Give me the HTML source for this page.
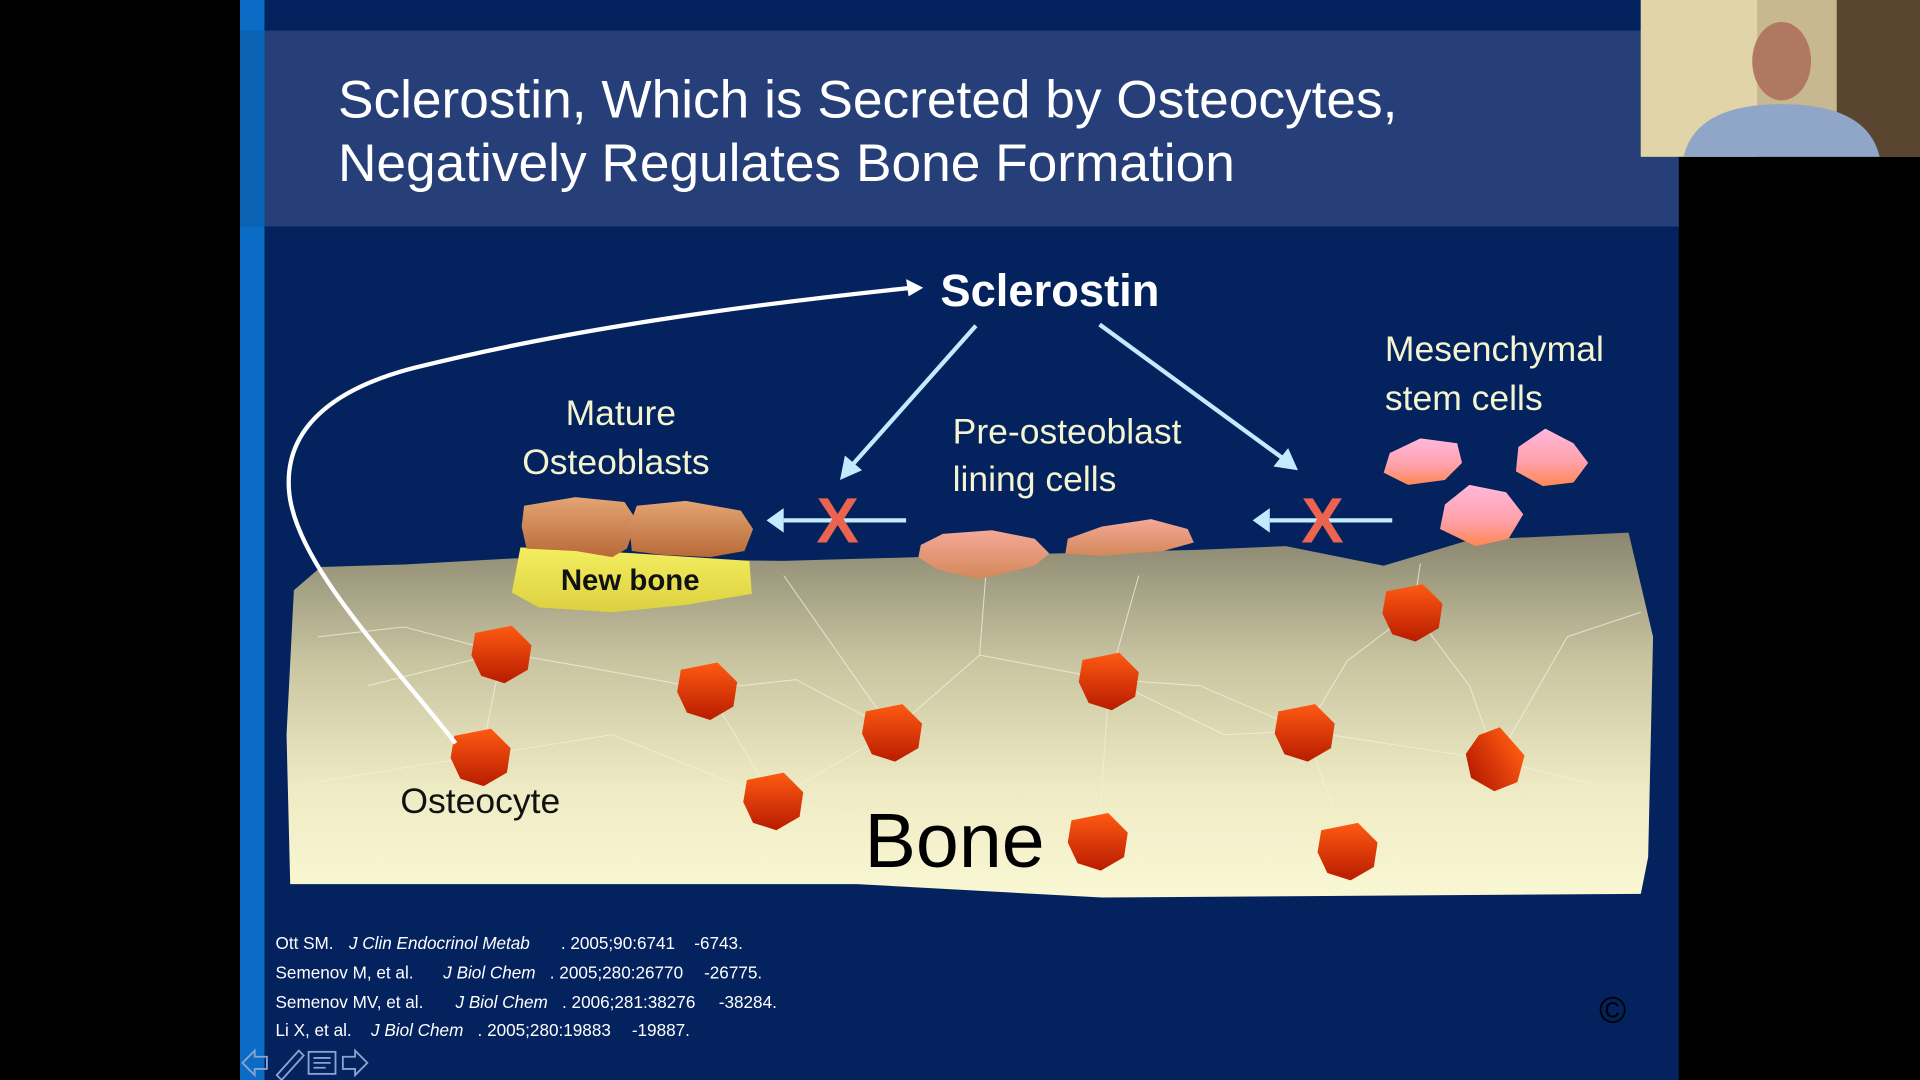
<!DOCTYPE html>
<html><head><meta charset="utf-8"><style>
html,body{margin:0;padding:0;background:#000;width:1920px;height:1080px;overflow:hidden}
svg{display:block}
text{font-family:"Liberation Sans",sans-serif}
</style></head><body>
<svg width="1920" height="1080" viewBox="0 0 1568 882" preserveAspectRatio="none" xmlns="http://www.w3.org/2000/svg">
<defs>
<linearGradient id="bone" x1="0" y1="0" x2="0" y2="1">
<stop offset="0" stop-color="#8a8670"/><stop offset="0.35" stop-color="#c8c4a0"/><stop offset="0.7" stop-color="#eeebc4"/><stop offset="1" stop-color="#faf7d4"/></linearGradient>
<linearGradient id="red" x1="0" y1="0" x2="0" y2="1"><stop offset="0" stop-color="#ff5a12"/><stop offset="1" stop-color="#b81c00"/></linearGradient>
<linearGradient id="brown" x1="0" y1="0" x2="0" y2="1"><stop offset="0" stop-color="#e4a474"/><stop offset="1" stop-color="#b86a38"/></linearGradient>
<linearGradient id="yel" x1="0" y1="0" x2="0" y2="1"><stop offset="0" stop-color="#f4ee60"/><stop offset="1" stop-color="#dcd040"/></linearGradient>
<linearGradient id="lin" x1="0" y1="0" x2="0" y2="1"><stop offset="0" stop-color="#f4a898"/><stop offset="1" stop-color="#d4885a"/></linearGradient>
<linearGradient id="msc" x1="0" y1="0" x2="0" y2="1"><stop offset="0" stop-color="#ffb8dc"/><stop offset="0.6" stop-color="#ffa0a8"/><stop offset="1" stop-color="#ff8850"/></linearGradient>
<path id="cell" d="M-22,-16 L8,-22 L24,-6 L21,14 L2,25 L-17,19 L-25,2 Z"/>
</defs>
<rect width="1568" height="882" fill="#000"/>
<rect x="196" y="0" width="1175" height="882" fill="#03225e"/>
<rect x="196" y="0" width="20" height="882" fill="#0a6cc4"/>
<rect x="216" y="25" width="1155" height="160" fill="#263f78"/>
<rect x="196" y="25" width="20" height="160" fill="#0a62b4"/>
<text x="276" y="96" font-size="43.5" fill="#fff">Sclerostin, Which is Secreted by Osteocytes,</text>
<text x="276" y="148" font-size="43.5" fill="#fff">Negatively Regulates Bone Formation</text>
<rect x="1340" y="0" width="228" height="128" fill="#c8b890"/>
<rect x="1340" y="0" width="95" height="128" fill="#e0d4a8"/>
<rect x="1500" y="0" width="68" height="128" fill="#5a4630"/>
<ellipse cx="1455" cy="50" rx="24" ry="32" fill="#b07860"/>
<path d="M1375,128 Q1385,85 1455,85 Q1525,85 1535,128 Z" fill="#8fa6c8"/>
<path d="M240,482 L262,463 L330,461 L420,456 L640,458 L750,455 L860,452 L980,449 L1050,446 L1130,462 L1200,441 L1330,435 L1350,520 L1346,700 L1340,730 L900,733 L700,722 L237,722 L234,600 Z" fill="url(#bone)"/>
<g stroke="#f4f0dc" stroke-width="0.8" fill="none" opacity="0.8">
<path d="M260,520 L330,512 L410,533 L480,545 L578,563 L650,555 L729,597 L800,535 L906,555 L980,560 L1066,597 L1100,540 L1154,499"/>
<path d="M393,617 L410,533 M393,617 L500,600 L632,653 L729,597 M632,653 L578,563 M906,555 L930,470 M800,535 L805,470 M729,597 L640,470 M906,555 L1000,600 L1066,597 L1222,621 L1300,640 M1066,597 L1101,694 M1154,499 L1200,560 L1222,621 M1222,621 L1280,520 L1340,500 M897,686 L906,555 M632,653 L760,680 L897,686 L1000,690 L1101,694"/>
<path d="M250,640 L393,617 M300,560 L410,533 M1154,499 L1160,460"/>
</g>
<g fill="url(#red)">
<use href="#cell" transform="translate(410,533)"/>
<use href="#cell" transform="translate(578,563)"/>
<use href="#cell" transform="translate(729,597)"/>
<use href="#cell" transform="translate(906,555)"/>
<use href="#cell" transform="translate(393,617)"/>
<use href="#cell" transform="translate(632,653)"/>
<use href="#cell" transform="translate(897,686)"/>
<use href="#cell" transform="translate(1066,597)"/>
<use href="#cell" transform="translate(1154,499)"/>
<use href="#cell" transform="translate(1222,621) rotate(60)"/>
<use href="#cell" transform="translate(1101,694)"/>
</g>
<path d="M425,447 L520,452 L612,458 L614,485 L560,494 L500,500 L440,496 L418,484 Z" fill="url(#yel)"/>
<path d="M428,413 L470,406 L510,410 L520,425 L512,448 L500,455 L470,450 L430,448 L426,430 Z" fill="url(#brown)"/>
<path d="M520,413 L560,409 L605,417 L615,432 L608,450 L580,455 L540,453 L516,450 L514,430 Z" fill="url(#brown)"/>
<path d="M752,445 L770,436 L810,433 L845,440 L857,452 L845,462 L800,473 L765,465 L750,455 Z" fill="url(#lin)"/>
<path d="M872,440 L900,430 L940,424 L970,432 L975,443 L950,450 L900,454 L870,452 Z" fill="url(#lin)"/>
<path d="M1135,370 L1160,358 L1190,362 L1194,378 L1180,392 L1150,396 L1130,386 Z" fill="url(#msc)"/>
<path d="M1240,365 L1262,350 L1285,362 L1297,378 L1285,394 L1260,397 L1238,385 Z" fill="url(#msc)"/>
<path d="M1180,412 L1200,396 L1230,402 L1244,420 L1232,440 L1205,446 L1176,432 Z" fill="url(#msc)"/>
<g stroke="#c4eaff" stroke-width="3.5" fill="#c4eaff">
<line x1="797" y1="266" x2="694" y2="382"/>
<line x1="898" y1="265" x2="1050" y2="376"/>
<line x1="740" y1="425" x2="640" y2="425"/>
<line x1="1137" y1="425" x2="1037" y2="425"/>
</g>
<g fill="#c4eaff">
<polygon points="686,392 690,372 704,384"/>
<polygon points="1060,384 1040,381 1052,366"/>
<polygon points="626,425 640,415 640,435"/>
<polygon points="1023,425 1037,415 1037,435"/>
</g>
<text x="684" y="443" font-size="52" font-weight="bold" fill="#ec6450" text-anchor="middle">X</text>
<text x="1080" y="443" font-size="52" font-weight="bold" fill="#ec6450" text-anchor="middle">X</text>
<path d="M372,607 C320,540 240,460 236,400 C232,345 280,315 340,300 C460,270 600,250 745,235" stroke="#fff" stroke-width="3.5" fill="none"/>
<polygon points="754,235 740,228 742,242" fill="#fff"/>
<text x="768" y="250" font-size="37" font-weight="bold" fill="#fff">Sclerostin</text>
<g font-size="29" fill="#f4f4d0">
<text x="507" y="347" text-anchor="middle">Mature</text>
<text x="503" y="387" text-anchor="middle">Osteoblasts</text>
<text x="778" y="362">Pre-osteoblast</text>
<text x="778" y="401">lining cells</text>
<text x="1131" y="295">Mesenchymal</text>
<text x="1131" y="335">stem cells</text>
</g>
<text x="458" y="482" font-size="24" font-weight="bold" fill="#111">New bone</text>
<text x="327" y="664" font-size="29" fill="#111">Osteocyte</text>
<text x="706" y="708" font-size="63" fill="#000">Bone</text>
<g font-size="14" fill="#fff">
<text x="225" y="775">Ott SM.<tspan x="285" font-style="italic">J Clin Endocrinol Metab</tspan><tspan x="458">. 2005;90:6741</tspan><tspan x="567">-6743.</tspan></text>
<text x="225" y="799">Semenov M, et al.<tspan x="362" font-style="italic">J Biol Chem</tspan><tspan x="449">. 2005;280:26770</tspan><tspan x="575">-26775.</tspan></text>
<text x="225" y="823">Semenov MV, et al.<tspan x="372" font-style="italic">J Biol Chem</tspan><tspan x="459">. 2006;281:38276</tspan><tspan x="587">-38284.</tspan></text>
<text x="225" y="846">Li X, et al.<tspan x="303" font-style="italic">J Biol Chem</tspan><tspan x="390">. 2005;280:19883</tspan><tspan x="516">-19887.</tspan></text>
</g>
<text x="1317" y="835" font-size="30" fill="#000" text-anchor="middle">©</text>
<g stroke="#8aa4d0" stroke-width="1.5" fill="none">
<polygon points="198,868 208,858 208,863 218,863 218,873 208,873 208,878"/>
<path d="M226,878 L244,858 L248,862 L230,882 Z"/>
<rect x="252" y="859" width="22" height="18"/>
<path d="M256,864 H270 M256,868 H270 M256,872 H266"/>
<polygon points="300,868 290,858 290,863 280,863 280,873 290,873 290,878"/>
</g>
</svg>
</body></html>
